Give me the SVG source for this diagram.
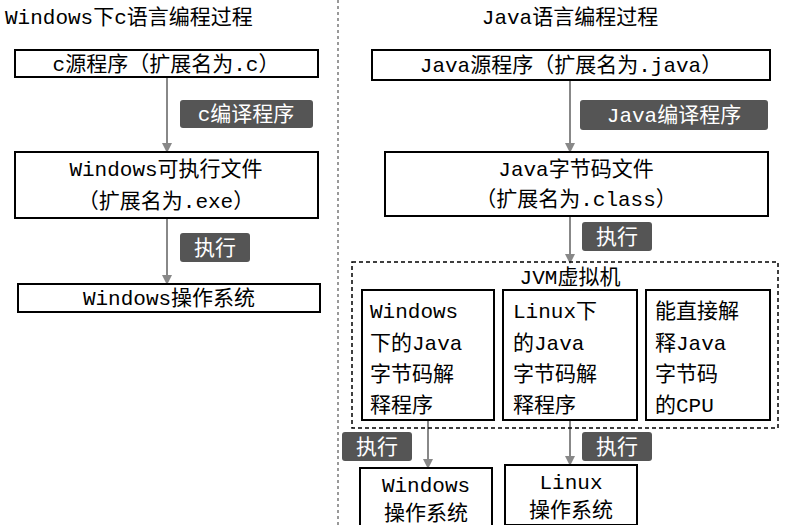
<svg xmlns="http://www.w3.org/2000/svg" width="794" height="525" viewBox="0 0 794 525">
<style>
text{font-family:"Liberation Mono","Noto Sans CJK SC",monospace;font-size:21px;fill:#000}
.box{fill:#fff;stroke:#000;stroke-width:2}
.lbl{fill:#555;stroke:none}
.lt{fill:#fff}
.c{text-anchor:middle}
.ln{stroke:#888;stroke-width:2;fill:none;marker-end:url(#a)}
</style>
<defs><marker id="a" markerWidth="10" markerHeight="10" refX="8" refY="5" orient="auto" markerUnits="userSpaceOnUse"><path d="M0,0L10,5L0,10z" fill="#888"/></marker></defs>
<rect width="794" height="525" fill="#fff"/>
<line x1="338" y1="0" x2="338" y2="525" stroke="#999" stroke-width="2" stroke-dasharray="3,3"/>
<text x="5" y="24">Windows下c语言编程过程</text>
<text x="570" y="24" class="c">Java语言编程过程</text>
<g id="connectors">
<line class="ln" x1="167" y1="77" x2="167" y2="151"/>
<line class="ln" x1="167" y1="219" x2="167" y2="283"/>
<line class="ln" x1="570" y1="81" x2="570" y2="151"/>
<line class="ln" x1="570" y1="217" x2="570" y2="262"/>
<line class="ln" x1="428" y1="421" x2="428" y2="467"/>
<line class="ln" x1="570" y1="421" x2="570" y2="464"/>
</g>
<g id="c_src"><rect class="box" x="15" y="50" width="303" height="27"/><text x="166" y="71" class="c">c源程序（扩展名为.c）</text></g>
<g id="c_comp"><rect class="lbl" x="180" y="100" width="133" height="28" rx="3"/><text class="lt c" x="246" y="121">c编译程序</text></g>
<g id="exe"><rect class="box" x="15" y="152" width="303" height="66"/><text x="166" y="176" class="c">Windows可执行文件</text><text x="166" y="208" class="c">（扩展名为.exe）</text></g>
<g id="run1"><rect class="lbl" x="180" y="233" width="70" height="29" rx="3"/><text class="lt c" x="215" y="255">执行</text></g>
<g id="winos"><rect class="box" x="18" y="284" width="302" height="28"/><text x="169" y="305" class="c">Windows操作系统</text></g>
<g id="java_src"><rect class="box" x="372" y="50" width="398" height="30"/><text x="571" y="72" class="c">Java源程序（扩展名为.java）</text></g>
<g id="java_comp"><rect class="lbl" x="580" y="100" width="188" height="30" rx="3"/><text class="lt c" x="674" y="122">Java编译程序</text></g>
<g id="class"><rect class="box" x="385" y="152" width="383" height="64"/><text x="576" y="176" class="c">Java字节码文件</text><text x="576" y="206" class="c">（扩展名为.class）</text></g>
<g id="run2"><rect class="lbl" x="582" y="222" width="70" height="29" rx="3"/><text class="lt c" x="617" y="244">执行</text></g>
<g id="jvm"><rect x="352" y="262" width="426" height="166" fill="none" stroke="#000" stroke-width="1.5" stroke-dasharray="4,3"/><text x="570" y="284" class="c">JVM虚拟机</text>
<g id="winjvm"><rect class="box" x="362" y="290" width="132" height="130"/><text x="370" y="318">Windows</text><text x="370" y="350">下的Java</text><text x="370" y="381">字节码解</text><text x="370" y="412">释程序</text></g>
<g id="linjvm"><rect class="box" x="503" y="290" width="134" height="130"/><text x="513" y="318">Linux下</text><text x="513" y="350">的Java</text><text x="513" y="381">字节码解</text><text x="513" y="412">释程序</text></g>
<g id="cpu"><rect class="box" x="646" y="290" width="124" height="130"/><text x="655" y="318">能直接解</text><text x="655" y="350">释Java</text><text x="655" y="381">字节码</text><text x="655" y="412">的CPU</text></g>
</g>
<g id="run3"><rect class="lbl" x="342" y="432" width="70" height="29" rx="3"/><text class="lt c" x="377" y="454">执行</text></g>
<g id="run4"><rect class="lbl" x="582" y="432" width="70" height="29" rx="3"/><text class="lt c" x="617" y="454">执行</text></g>
<g id="winos2"><rect class="box" x="360" y="468" width="132" height="60"/><text x="426" y="492" class="c">Windows</text><text x="426" y="520" class="c">操作系统</text></g>
<g id="linos"><rect class="box" x="505" y="465" width="132" height="60"/><text x="571" y="489" class="c">Linux</text><text x="571" y="517" class="c">操作系统</text></g>
</svg>
